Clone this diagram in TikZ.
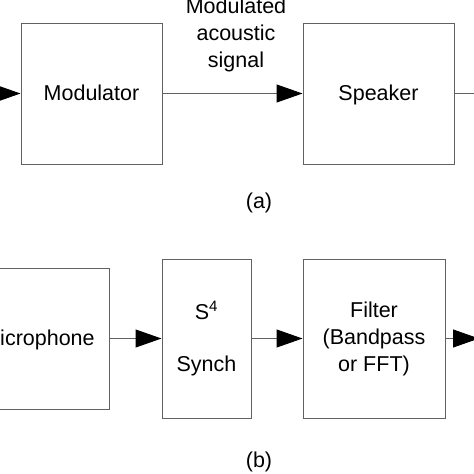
\documentclass[tikz,border=0pt]{standalone}
\usepackage{fontspec}
\setmainfont{Liberation Sans}
\usetikzlibrary{arrows.meta}
\begin{document}
\begin{tikzpicture}[x=1pt,y=-1pt,
  blk/.style={draw=black!62,line width=1pt,inner sep=0pt,align=center,
    font=\fontsize{21.5}{27}\selectfont},
  onel/.style={text height=14pt,text depth=0pt},
  lbl/.style={inner sep=0pt,align=center,font=\fontsize{21.5}{27}\selectfont},
  conn/.style={draw=black!62,line width=1pt},
  arr/.style={conn,-{Triangle[length=26pt,width=18pt,fill=black,color=black]}}]
\useasboundingbox (0,0) rectangle (474,474);
% (a)
\node[blk,onel,minimum width=141pt,minimum height=141pt] (mod) at (91.5,93.5) {Modulator};
\node[blk,onel,minimum width=151pt,minimum height=141pt] (spk) at (378.5,93.5) {Speaker};
\coordinate (ain) at (-10,93.5);
\coordinate (aout) at (490,93.5);
\draw[arr] (ain) -- (mod.west);
\draw[arr] (mod.east) -- (spk.west);
\draw[conn] (spk.east) -- (aout);
\node[lbl] (sig) at (236,35) {Modulated\\acoustic\\signal};
\node[lbl] (capa) at (259,203) {(a)};
% (b)
\node[blk,onel,minimum width=141pt,minimum height=141pt] (mic) at (38.5,338.5) {Microphone};
\node[blk,minimum width=89pt,minimum height=159pt] (syn) at (206.5,338.5) {S\textsuperscript{4}\\[25pt]Synch};
\node[blk,minimum width=142pt,minimum height=159pt] (fil) at (374,338.5) {Filter\\(Bandpass\\or FFT)};
\coordinate (bout) at (479,338.5);
\draw[arr] (mic.east) -- (syn.west);
\draw[arr] (syn.east) -- (fil.west);
\draw[arr] (fil.east) -- (bout);
\node[lbl] (capb) at (259,462) {(b)};
\end{tikzpicture}
\end{document}
